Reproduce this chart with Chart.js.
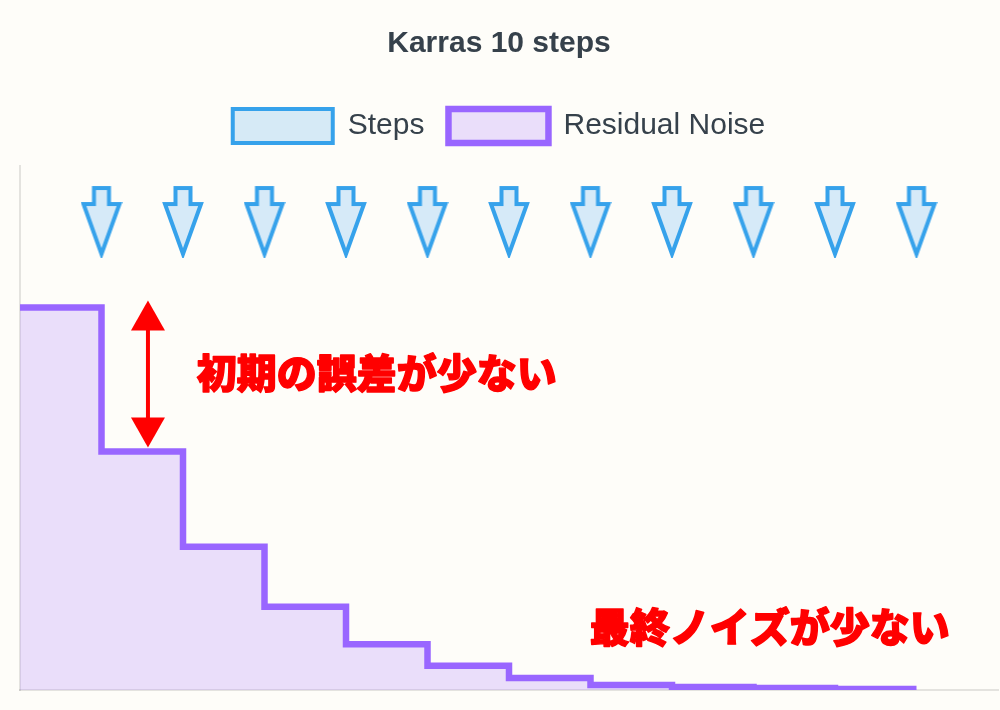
<!DOCTYPE html>
<html>
<head>
  <meta charset="utf-8">
  <title>Karras 10 steps</title>
  <script src="https://cdn.jsdelivr.net/npm/chart.js"></script>
  <style>
    html, body { margin: 0; padding: 0; background: #fefdf9; }
    canvas { display: block; }
  </style>
</head>
<body>
  <canvas id="karras" width="1000" height="710"></canvas>
  <script>
    // データ
    var stepPositions = [1, 2, 3, 4, 5, 6, 7, 8, 9, 10, 11];
    var stepMarkerLevel = 17.9;
    var noiseX = [0, 1, 2, 3, 4, 5, 6, 7, 8, 9, 10, 11];
    var noiseLevels = [14.6, 9.1, 5.47, 3.18, 1.75, 0.93, 0.46, 0.19, 0.11, 0.08, 0.04, 0.04];
    var xRange = [0, 12];
    var yRange = [0, 20];

    // 注釈 (データ座標)
    var notes = [
      { text: '初期の誤差が少ない', x: 2.17, y: 12.1 },
      { text: '最終ノイズが少ない', x: 6.99, y: 2.4 }
    ];
    var gapArrow = { x: 1.57, from: 0, to: 1 }; // noiseLevels の index

    var blue = 'rgb(54, 162, 235)';
    var blueFill = 'rgba(54, 162, 235, 0.2)';
    var purple = 'rgb(153, 102, 255)';
    var purpleFill = 'rgba(153, 102, 255, 0.2)';

    // 下向き矢印マーカー
    function makeArrow() {
      var c = document.createElement('canvas');
      c.width = 42; c.height = 74;
      var g = c.getContext('2d');
      g.beginPath();
      g.moveTo(13.5, 4); g.lineTo(28.5, 4); g.lineTo(28.5, 20);
      g.lineTo(39, 20); g.lineTo(21, 70); g.lineTo(3, 20);
      g.lineTo(13.5, 20); g.closePath();
      g.fillStyle = 'rgb(214, 234, 248)';
      g.fill();
      g.lineWidth = 4;
      g.lineJoin = 'miter';
      g.strokeStyle = blue;
      g.stroke();
      return c;
    }
    var arrowImg = makeArrow();

    var legendMargin = {
      id: 'legendMargin',
      beforeInit: function (chart) {
        var fit = chart.legend.fit;
        chart.legend.fit = function () {
          fit.bind(chart.legend)();
          this.height += 13;
        };
      }
    };

    var notesPlugin = {
      id: 'notes',
      afterDatasetsDraw: function (chart) {
        var ctx = chart.ctx;
        var xs = chart.scales.x, ys = chart.scales.y;
        ctx.save();
        ctx.fillStyle = '#ff0000';
        ctx.strokeStyle = '#ff0000';
        ctx.font = '900 40px "Noto Sans CJK JP"';
        ctx.textBaseline = 'middle';
        ctx.textAlign = 'left';
        ctx.lineWidth = 1.4;
        ctx.lineJoin = 'round';
        notes.forEach(function (n) {
          var px = xs.getPixelForValue(n.x), py = ys.getPixelForValue(n.y);
          ctx.fillText(n.text, px, py);
          ctx.strokeText(n.text, px, py);
        });
        // 両矢印
        var ax = xs.getPixelForValue(gapArrow.x);
        var top = ys.getPixelForValue(noiseLevels[gapArrow.from]) - 7;
        var bot = ys.getPixelForValue(noiseLevels[gapArrow.to]) - 4;
        var hw = 17, hh = 30;
        ctx.lineWidth = 4;
        ctx.lineJoin = 'miter';
        ctx.beginPath();
        ctx.moveTo(ax, top + hh - 2); ctx.lineTo(ax, bot - hh + 2);
        ctx.stroke();
        ctx.beginPath();
        ctx.moveTo(ax, top); ctx.lineTo(ax + hw, top + hh); ctx.lineTo(ax - hw, top + hh); ctx.closePath();
        ctx.fill();
        ctx.beginPath();
        ctx.moveTo(ax, bot); ctx.lineTo(ax + hw, bot - hh); ctx.lineTo(ax - hw, bot - hh); ctx.closePath();
        ctx.fill();
        ctx.restore();
      }
    };

    new Chart(document.getElementById('karras'), {
      type: 'line',
      data: {
        datasets: [
          {
            label: 'Steps',
            data: stepPositions.map(function (x) { return { x: x, y: stepMarkerLevel }; }),
            showLine: false,
            pointStyle: arrowImg,
            borderColor: blue,
            backgroundColor: blueFill,
            borderWidth: 4
          },
          {
            label: 'Residual Noise',
            data: noiseX.map(function (x, i) { return { x: x, y: noiseLevels[i] }; }),
            stepped: 'before',
            fill: 'origin',
            borderColor: purple,
            backgroundColor: purpleFill,
            borderWidth: 6.5,
            pointRadius: 0
          }
        ]
      },
      options: {
        responsive: false,
        animation: false,
        devicePixelRatio: 1,
        layout: { autoPadding: false, padding: { left: 0, right: 2, bottom: 0, top: 0 } },
        plugins: {
          title: {
            display: true,
            text: 'Karras 10 steps',
            color: '#36414b',
            font: { family: 'Liberation Sans, Arial', size: 30, weight: 'bold' },
            padding: { top: 26, bottom: 23 }
          },
          legend: {
            labels: {
              color: '#36414b',
              boxWidth: 100,
              boxHeight: 34,
              padding: 24,
              font: { family: 'Liberation Sans, Arial', size: 30 }
            }
          },
          tooltip: { enabled: false }
        },
        scales: {
          x: {
            type: 'linear',
            min: xRange[0], max: xRange[1],
            ticks: { display: false },
            grid: { display: false },
            border: { display: true, color: 'rgba(0,0,0,0.1)', width: 2 },
            afterFit: function (s) { s.height = 20; }
          },
          y: {
            min: yRange[0], max: yRange[1],
            ticks: { display: false },
            grid: { display: false },
            border: { display: true, color: 'rgba(0,0,0,0.1)', width: 2 },
            afterFit: function (s) { s.width = 20; }
          }
        }
      },
      plugins: [legendMargin, notesPlugin]
    });
  </script>
</body>
</html>
